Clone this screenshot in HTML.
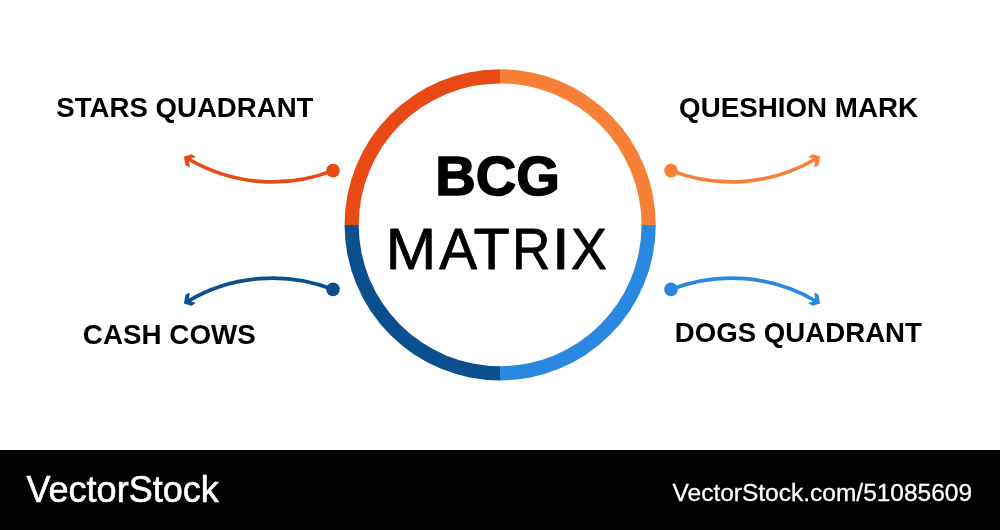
<!DOCTYPE html>
<html><head><meta charset="utf-8">
<style>
html,body{margin:0;padding:0;background:#fff;}
body{width:1000px;height:530px;overflow:hidden;position:relative;}
svg{position:absolute;left:0;top:0;will-change:transform;}
.bar{position:absolute;left:0;top:450px;width:1000px;height:80px;background:#000;}
</style></head>
<body>
<div class="bar"></div>
<svg width="1000" height="530" viewBox="0 0 1000 530">
  <defs><mask id="ring"><rect x="0" y="0" width="1000" height="530" fill="#000"/><circle cx="500.15" cy="224.8" r="155.6" fill="#fff"/><circle cx="500.15" cy="224.8" r="141.4" fill="#000"/></mask></defs>
  <g mask="url(#ring)">
    <rect x="340" y="60" width="160" height="165" fill="#e94a15"/>
    <rect x="500" y="60" width="165" height="165" fill="#f78036"/>
    <rect x="340" y="225" width="160" height="165" fill="#0c4f8e"/>
    <rect x="500" y="225" width="165" height="165" fill="#2988df"/>
  </g>
  <!-- arrows -->
  <g transform="">
    <path d="M333 170.6 A166.7 166.7 0 0 1 188 158.8" fill="none" stroke="#e94a15" stroke-width="3.6"/>
    <path d="M183.9 156.6 L191.5 154.3 L195.8 156.9 L188.9 159.5 L189.7 167.4 L185.5 165.3 Z" fill="#e94a15"/>
    <circle cx="333" cy="170.6" r="6.8" fill="#e94a15"/>
  </g>
  <g transform="translate(1004 0) scale(-1 1)">
    <path d="M333 170.6 A166.7 166.7 0 0 1 188 158.8" fill="none" stroke="#f78036" stroke-width="3.6"/>
    <path d="M183.9 156.6 L191.5 154.3 L195.8 156.9 L188.9 159.5 L189.7 167.4 L185.5 165.3 Z" fill="#f78036"/>
    <circle cx="333" cy="170.6" r="6.8" fill="#f78036"/>
  </g>
  <g transform="translate(0 460) scale(1 -1)">
    <path d="M333 170.6 A166.7 166.7 0 0 1 188 158.8" fill="none" stroke="#0c4f8e" stroke-width="3.6"/>
    <path d="M183.9 156.6 L191.5 154.3 L195.8 156.9 L188.9 159.5 L189.7 167.4 L185.5 165.3 Z" fill="#0c4f8e"/>
    <circle cx="333" cy="170.6" r="6.8" fill="#0c4f8e"/>
  </g>
  <g transform="translate(1004 460) scale(-1 -1)">
    <path d="M333 170.6 A166.7 166.7 0 0 1 188 158.8" fill="none" stroke="#2988df" stroke-width="3.6"/>
    <path d="M183.9 156.6 L191.5 154.3 L195.8 156.9 L188.9 159.5 L189.7 167.4 L185.5 165.3 Z" fill="#2988df"/>
    <circle cx="333" cy="170.6" r="6.8" fill="#2988df"/>
  </g>
  <!-- texts -->
  <g font-family="'Liberation Sans', sans-serif">
    <text x="435.22" y="195.15" font-size="56.10" font-weight="bold" fill="#000" stroke="#000" stroke-width="1.5" stroke-linejoin="round" textLength="124.60" lengthAdjust="spacingAndGlyphs">BCG</text>
    <text x="56.30" y="116.90" font-size="27.38" font-weight="bold" fill="#000" textLength="257.19" lengthAdjust="spacingAndGlyphs">STARS QUADRANT</text>
    <text x="679.11" y="117.10" font-size="27.91" font-weight="bold" fill="#000" textLength="239.01" lengthAdjust="spacingAndGlyphs">QUESHION MARK</text>
    <text x="82.89" y="343.75" font-size="27.25" font-weight="bold" fill="#000" textLength="172.93" lengthAdjust="spacingAndGlyphs">CASH COWS</text>
    <text x="674.80" y="342.10" font-size="27.67" font-weight="bold" fill="#000" textLength="247.16" lengthAdjust="spacingAndGlyphs">DOGS QUADRANT</text>
    <text x="26.50" y="501.70" font-size="36.92" font-weight="normal" fill="#fff" stroke="#fff" stroke-width="0.6" stroke-linejoin="round" textLength="192.31" lengthAdjust="spacingAndGlyphs">VectorStock</text>
    <text x="672.53" y="500.65" font-size="23.98" font-weight="normal" fill="#fff" stroke="#fff" stroke-width="0.3" stroke-linejoin="round" textLength="299.61" lengthAdjust="spacingAndGlyphs">VectorStock.com/51085609</text>
    <text transform="translate(385.85 268.6) scale(1.0580 1)" font-size="57.3" fill="#000" stroke="#000" stroke-width="0.8" stroke-linejoin="round">M</text>
    <text transform="translate(439.29 268.6) scale(0.9898 1)" font-size="57.3" fill="#000" stroke="#000" stroke-width="0.8" stroke-linejoin="round">A</text>
    <text transform="translate(473.48 268.6) scale(1.0362 1)" font-size="57.3" fill="#000" stroke="#000" stroke-width="0.8" stroke-linejoin="round">T</text>
    <text transform="translate(512.00 268.6) scale(0.9304 1)" font-size="57.3" fill="#000" stroke="#000" stroke-width="0.8" stroke-linejoin="round">R</text>
    <text transform="translate(551.83 268.6) scale(1.1393 1)" font-size="57.3" fill="#000" stroke="#000" stroke-width="0.8" stroke-linejoin="round">I</text>
    <text transform="translate(570.97 268.6) scale(0.9363 1)" font-size="57.3" fill="#000" stroke="#000" stroke-width="0.8" stroke-linejoin="round">X</text>
  </g>
  <!-- /texts -->
</svg>
</body></html>
